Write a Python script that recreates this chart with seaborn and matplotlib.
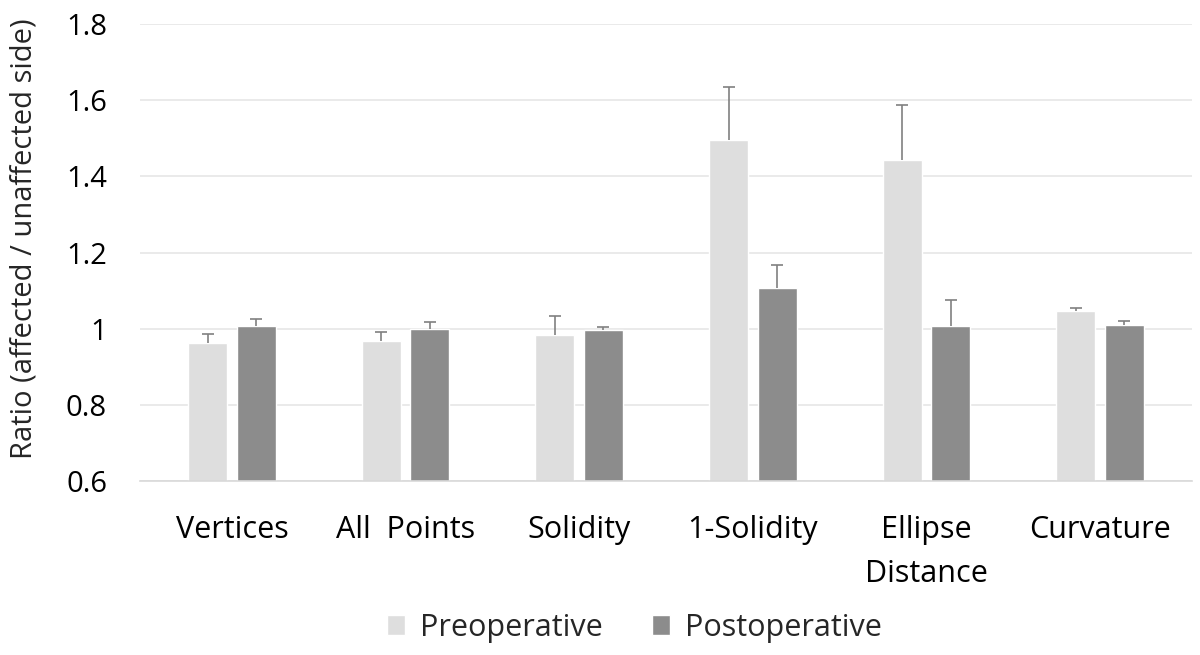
import pandas as pd
import numpy as np
import matplotlib
matplotlib.use("Agg")
import matplotlib.pyplot as plt
from matplotlib.ticker import FuncFormatter
import seaborn as sns

# =========================
# Data
# =========================

categories = [
    "Vertices",
    "All  Points",
    "Solidity",
    "1-Solidity",
    "Ellipse\nDistance",
    "Curvature",
]

pre_mean = [0.963, 0.968, 0.984, 1.496, 1.444, 1.045]
pre_err = [0.024, 0.024, 0.048, 0.140, 0.144, 0.010]

post_mean = [1.008, 1.000, 0.997, 1.108, 1.008, 1.010]
post_err = [0.016, 0.018, 0.006, 0.060, 0.068, 0.011]

groups = ["Preoperative", "Postoperative"]

df = pd.DataFrame(
    {
        "category": categories * 2,
        "group": [groups[0]] * 6 + [groups[1]] * 6,
        "value": pre_mean + post_mean,
        "err": pre_err + post_err,
    }
)

# =========================
# Plot
# =========================

sns.set_style("white")
plt.rcParams["font.family"] = ["Open Sans", "DejaVu Sans"]

fig = plt.figure(figsize=(12, 6.55), dpi=100)
ax = fig.add_axes([0.117, 0.266, 0.876, 0.697])

palette = {"Preoperative": "#dedede", "Postoperative": "#8c8c8c"}

sns.barplot(
    data=df,
    x="category",
    y="value",
    hue="group",
    palette=palette,
    width=0.56,
    gap=0.2,
    errorbar=None,
    ax=ax,
    zorder=2,
)

# upper error bars only
for cont, g in zip(ax.containers, groups):
    sub = df[df.group == g]
    xs = [p.get_x() + p.get_width() / 2 for p in cont.patches]
    eb = ax.errorbar(
        xs,
        sub.value.values,
        yerr=[np.zeros(len(sub)), sub.err.values],
        fmt="none",
        ecolor="#808080",
        elinewidth=1.2,
        capsize=4,
        capthick=1.2,
        zorder=3,
    )
    eb[1][0].set_visible(False)

ax.set_ylim(0.6, 1.8)
ax.set_yticks([0.6, 0.8, 1.0, 1.2, 1.4, 1.6, 1.8])
ax.yaxis.set_major_formatter(FuncFormatter(lambda v, p: "%g" % round(v, 2)))
ax.yaxis.grid(True, color="#e6e6e6", linewidth=1.2, zorder=0)
ax.set_axisbelow(True)

for s in ["top", "right", "left"]:
    ax.spines[s].set_visible(False)
ax.spines["bottom"].set_color("#d9d9d9")
ax.spines["bottom"].set_linewidth(1.2)

ax.tick_params(axis="both", length=0, colors="#000000")
ax.tick_params(axis="y", pad=24, labelsize=21)
ax.tick_params(axis="x", pad=25, labelsize=22)
for lab in ax.get_xticklabels():
    lab.set_linespacing(1.6)

ax.set_xlabel("")
ax.set_ylabel("Ratio (affected / unaffected side)", fontsize=21)
ax.yaxis.set_label_coords(-0.097, 0.53)

ax.legend(
    loc="center",
    bbox_to_anchor=(0.47, -0.322),
    ncol=2,
    frameon=False,
    fontsize=22,
    handlelength=0.6,
    handleheight=0.6,
    handletextpad=0.5,
    columnspacing=1.6,
)

plt.savefig("out.png", dpi=100)
